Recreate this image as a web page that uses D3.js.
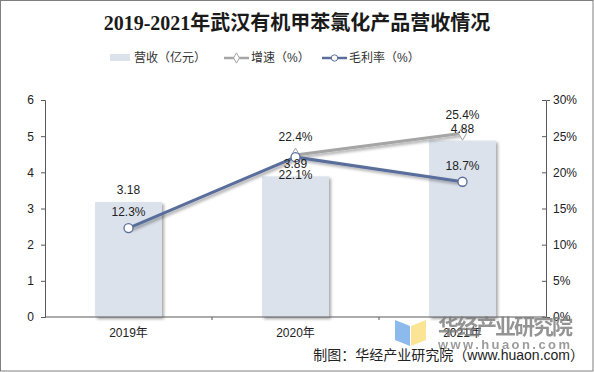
<!DOCTYPE html>
<html><head><meta charset="utf-8">
<script src="https://cdn.jsdelivr.net/npm/d3@7"></script>
<style>
html,body{margin:0;padding:0;background:#fff;}
svg{display:block;}
text{font-family:"Liberation Sans","Noto Sans CJK SC",sans-serif;}
</style></head>
<body><svg id="c" width="594" height="372"></svg>
<script>
const title = "2019-2021年武汉有机甲苯氯化产品营收情况";
const categories = ["2019年","2020年","2021年"];
const revenue = [3.18, 3.89, 4.88];
const growth = [null, 22.4, 25.4];
const margin = [12.3, 22.1, 18.7];
const leftTicks = [0,1,2,3,4,5,6];
const rightTicks = [0,5,10,15,20,25,30];
const legendLabels = ["营收（亿元）","增速（%）","毛利率（%）"];
const source = "制图：华经产业研究院（www.huaon.com）";

const svg = d3.select("#c");
const W = 594, H = 372;
const L = 45, R = 546, T = 100, B = 317;

const defs = svg.append("defs");
const f = defs.append("filter").attr("id","sh").attr("x","-20%").attr("y","-20%").attr("width","150%").attr("height","150%");
f.append("feDropShadow").attr("dx",2).attr("dy",2).attr("stdDeviation",1.5).attr("flood-color","#000").attr("flood-opacity",0.35);

svg.append("rect").attr("width",W).attr("height",H).attr("fill","#fff");

const x = d3.scaleBand().domain(categories).range([L,R]).paddingInner(0.6).paddingOuter(0.3);
const yL = d3.scaleLinear().domain([0,6]).range([B,T]);
const yR = d3.scaleLinear().domain([0,30]).range([B,T]);

// title
svg.append("text").attr("x",W/2).attr("y",30).attr("text-anchor","middle")
  .style("font-family","'Liberation Serif','Noto Sans CJK SC',serif").style("font-weight","bold").style("font-size","20px").attr("fill","#1a1a1a").text(title);

// legend
const lg = svg.append("g").style("font-size","12px");
lg.append("rect").attr("x",110).attr("y",54).attr("width",20).attr("height",7).attr("fill","#dce2ec");
lg.append("text").attr("x",134).attr("y",62).attr("fill","#333").text(legendLabels[0]);
lg.append("line").attr("x1",224).attr("x2",249).attr("y1",58).attr("y2",58).attr("stroke","#a5a5a5").attr("stroke-width",2.5);
lg.append("path").attr("d",d3.symbol(d3.symbolDiamond,30)).attr("transform","translate(236.5,58)").attr("fill","#fff").attr("stroke","#a5a5a5").attr("stroke-width",1);
lg.append("text").attr("x",251).attr("y",62).attr("fill","#333").text(legendLabels[1]);
lg.append("line").attr("x1",322).attr("x2",347).attr("y1",58).attr("y2",58).attr("stroke","#5a6e9c").attr("stroke-width",2.5);
lg.append("circle").attr("cx",334.5).attr("cy",58).attr("r",3.2).attr("fill","#fff").attr("stroke","#5a6e9c").attr("stroke-width",1);
lg.append("text").attr("x",349).attr("y",62).attr("fill","#333").text(legendLabels[2]);

// bars
svg.append("g").selectAll("rect").data(revenue).join("rect")
  .attr("x",(d,i)=>x(categories[i])).attr("y",d=>yL(d))
  .attr("width",x.bandwidth()).attr("height",d=>B-yL(d))
  .attr("fill","#dce2ec").attr("filter","url(#sh)");

// axes
const axL = svg.append("g").attr("transform",`translate(${L},0)`)
  .call(d3.axisLeft(yL).tickValues(leftTicks).tickSize(4).tickPadding(7).tickFormat(d3.format("d")));
const axR = svg.append("g").attr("transform",`translate(${R},0)`)
  .call(d3.axisRight(yR).tickValues(rightTicks).tickSize(4).tickPadding(3).tickFormat(d=>d+"%"));
axR.selectAll(".tick line").attr("x1",-4).attr("x2",0);
[axL,axR].forEach(a=>{
  a.select(".domain").attr("stroke","#595959");
  a.selectAll(".tick line").attr("stroke","#595959");
  a.selectAll("text").style("font-size","12px").style("font-family","'Liberation Sans',sans-serif").attr("fill","#222");
});
// x axis
const xb = svg.append("g").attr("transform",`translate(0,${B})`);
xb.append("line").attr("x1",L).attr("x2",R).attr("stroke","#595959");
const step = x.step();
[1,2].forEach(k=>xb.append("line").attr("x1",L+k*step).attr("x2",L+k*step).attr("y1",0).attr("y2",3).attr("stroke","#595959"));
xb.selectAll("text.cat").data(categories).join("text").attr("class","cat")
  .attr("x",d=>x(d)+x.bandwidth()/2).attr("y",20).attr("text-anchor","middle")
  .style("font-size","12px").attr("fill","#222").text(d=>d);

const cx = i => x(categories[i]) + x.bandwidth()/2;

// growth line
const gPts = growth.map((v,i)=>v==null?null:[cx(i),yR(v)]).filter(p=>p);
svg.append("path").attr("d",d3.line()(gPts)).attr("fill","none").attr("stroke","#a5a5a5").attr("stroke-width",3).attr("filter","url(#sh)");
// margin line
const mPts = margin.map((v,i)=>[cx(i),yR(v)]);
svg.append("path").attr("d",d3.line()(mPts)).attr("fill","none").attr("stroke","#5a6e9c").attr("stroke-width",3).attr("filter","url(#sh)");

growth.forEach((v,i)=>{ if(v==null) return;
  svg.append("path").attr("d",d3.symbol(d3.symbolDiamond,55)).attr("transform",`translate(${cx(i)},${yR(v)})`)
   .attr("fill","#fff").attr("stroke","#a5a5a5").attr("stroke-width",1);
});
margin.forEach((v,i)=>{
  svg.append("circle").attr("cx",cx(i)).attr("cy",yR(v)).attr("r",4.5).attr("fill","#fff").attr("stroke","#5a6e9c").attr("stroke-width",1.3);
});

// labels
const lab = svg.append("g").style("font-size","12px").attr("fill","#222").attr("text-anchor","middle");
revenue.forEach((v,i)=>lab.append("text").attr("x",cx(i)).attr("y",yL(v)-8).text(d3.format(".2f")(v)));
growth.forEach((v,i)=>{ if(v==null) return; lab.append("text").attr("x",cx(i)).attr("y",yR(v)-14).text(v.toFixed(1)+"%"); });
const mOff = [-12, 22, -12];
margin.forEach((v,i)=>lab.append("text").attr("x",cx(i)).attr("y",yR(v)+mOff[i]).text(v.toFixed(1)+"%"));

// watermark
const wm = svg.append("g");
wm.append("path").attr("d","M395,320 L410,326 L410,346 L395,340 Z").attr("fill","#7fb3ea").attr("opacity",0.9);
wm.append("path").attr("d","M411,326 L426,320 L426,340 L411,346 Z").attr("fill","#fbe28a").attr("opacity",0.9);
wm.append("text").attr("x",438).attr("y",334).style("font-size","21px").style("font-weight","bold").attr("fill","#7a7a7a").attr("opacity",0.8).attr("textLength",135).text("华经产业研究院");
wm.append("text").attr("x",438).attr("y",349).style("font-size","13px").style("font-weight","bold").attr("fill","#7a7a7a").attr("opacity",0.75).attr("textLength",132).text("www.huaon.com");

// source
svg.append("text").attr("x",584).attr("y",360).attr("text-anchor","end").style("font-size","14px").attr("fill","#222").text(source);

// frame
svg.append("rect").attr("x",0.5).attr("y",0.5).attr("width",W-1.5).attr("height",H-1.5).attr("fill","none").attr("stroke","#7f7f7f");
</script></body></html>
